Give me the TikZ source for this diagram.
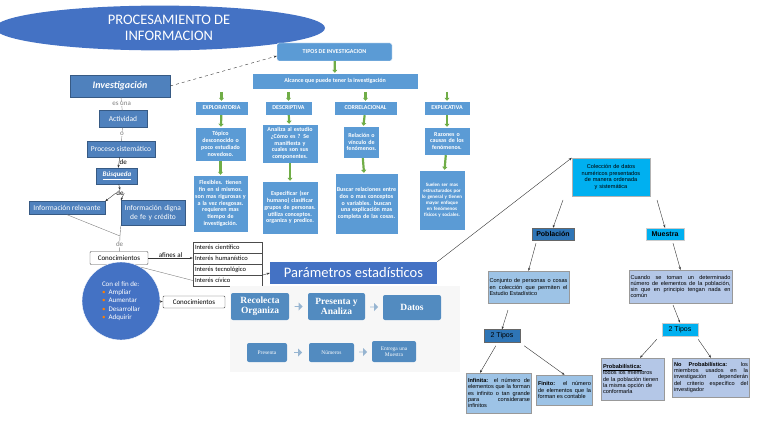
\documentclass[tikz,border=0pt]{standalone}
\usepackage{fontspec}
\setmainfont{Carlito}
\newfontfamily\arialf{Liberation Sans}
\newfontfamily\timesf{Liberation Serif}
\usepackage{tikz}
\usetikzlibrary{arrows.meta,shapes.arrows,shapes.geometric}

\definecolor{ppblue}{HTML}{4F81BD}
\definecolor{ttblue}{HTML}{5B9BD5}
\definecolor{pmblue}{HTML}{4472C4}
\definecolor{cyanb}{HTML}{00B0F0}
\definecolor{darkb}{HTML}{2E75B6}
\definecolor{lightb}{HTML}{9DC3E6}
\definecolor{paleb}{HTML}{B4C7E7}
\definecolor{greenar}{HTML}{70AD47}

\tikzset{
  bbox/.style={fill=ppblue, draw=ppblue!70!black, text=white, inner sep=1pt, align=center, font=\fontsize{7.5}{8.5}\selectfont},
  tbox/.style={fill=ttblue, draw=white, text=white, inner sep=1pt, align=center, font=\bfseries\fontsize{6}{6.8}\selectfont},
  wbox/.style={draw=black!70, rounded corners=1pt, fill=white, inner sep=1pt, font=\fontsize{7}{8}\selectfont},
  fbox/.style={fill=ttblue!90!black, rounded corners=2pt, text=white, align=center, inner sep=1pt},
  rbox/.style={draw=black!40, inner sep=1.5pt, text width=#1, font=\arialf\fontsize{5.6}{6.3}\selectfont},
  lab/.style={font=\fontsize{7}{8}\selectfont, inner sep=0.5pt},
  garrow/.style={draw=greenar, line width=2.2pt, -{Triangle[width=5pt,length=3pt]}},
  sarrow/.style={draw=black!80, -{Stealth[length=3pt]}},
  barrow/.style={single arrow, fill=lightb!80!gray, minimum height=8pt, minimum width=8pt, single arrow head extend=2pt, inner sep=0pt}
}

\begin{document}
\hyphenpenalty=10000 \exhyphenpenalty=10000
\begin{tikzpicture}[x=1pt,y=-1pt]

\useasboundingbox (0,0) rectangle (768,433);

% titulo
\node[ellipse, fill=pmblue, minimum width=330, minimum height=40, text=white, align=center, font=\fontsize{14.5}{15.5}\selectfont] (title) at (160,28) {\hspace*{18pt}PROCESAMIENTO DE\\\hspace*{18pt}INFORMACION};

% columna izquierda
\node[bbox, minimum width=100, minimum height=22, font=\bfseries\itshape\fontsize{10}{11}\selectfont] (inv) at (120,86) {Investigación};
\node[bbox, minimum width=48, minimum height=17] (act) at (123,119) {Actividad};
\node[bbox, minimum width=68, minimum height=16] (proc) at (121,149) {Proceso sistemático};
\node[bbox, minimum width=41, minimum height=16, font=\bfseries\itshape\fontsize{7}{8}\selectfont] (busq) at (117,176) {\underline{Búsqueda}};
\node[bbox, minimum width=76, minimum height=13] (irel) at (67,208) {Información relevante};
\node[bbox, minimum width=63, minimum height=25, text width=62] (idig) at (153,213) {Información digna de fe y crédito};
\coordinate (join) at (120,236);
\node[wbox, minimum width=58, minimum height=13] (con1) at (119,258) {Conocimientos};

\draw[gray] (inv) -- (act) node[midway, lab, fill=white] {es una};
\draw[gray] (act) -- (proc) node[midway, lab, fill=white] {o};
\draw[sarrow] (proc) -- (busq) node[midway, right, lab] {de};
\draw[sarrow] (busq) -- (120,190) node[below, lab] (de2) {de};
\draw[sarrow] (de2.west) -- (irel.north east);
\draw[sarrow] (de2.east) -- (idig.north west);
\draw[gray] (irel.south) -- (join) -- (idig.south west);
\draw[gray] (join) -- (con1) node[midway, lab, fill=white] {de};

% intereses
\foreach \t [count=\k] in {Interés científico, Interés humanístico, Interés tecnológico, Interés cívico}
  \node[draw=black!70, fill=white, minimum width=69, minimum height=11, inner sep=1pt, text width=65, font=\fontsize{6.5}{7}\selectfont] (int\k) at (227.5,236.5+11*\k) {\t};
\draw[sarrow] (con1) -- (int2.west |- con1) node[midway, above, lab] {afines al};

\node[circle, fill=pmblue, draw=white, minimum size=78, inner sep=0pt, text=white, align=left, font=\fontsize{7}{8.3}\selectfont] (fin) at (121,301) {Con el fin de:\\
{\color{orange}\textbullet}\ \ Ampliar\\{\color{orange}\textbullet}\ \ Aumentar\\{\color{orange}\textbullet}\ \ Desarrollar\\{\color{orange}\textbullet}\ \ Adquirir};
\draw[gray] (fin.60) -- (int4.west);
\node[wbox, minimum width=62, minimum height=12] (con2) at (194,302) {Conocimientos};
\draw[sarrow] (fin) -- (con2);

% tipos de investigacion
\node[tbox, minimum width=115, minimum height=18, rounded corners=2pt] (tipos) at (334.5,52) {TIPOS DE INVESTIGACION};
\node[tbox, minimum width=166, minimum height=16] (alc) at (335,81) {Alcance que puede tener la investigación};
\draw[garrow] (tipos) -- (alc);
\draw[sarrow, dashed] (inv.east) -- (tipos.west |- 0,56);

\foreach \n/\x/\w/\t in {exp/221.5/53/EXPLORATORIA, des/288.5/47/DESCRIPTIVA, cor/365.5/63/CORRELACIONAL, xpl/447/46/EXPLICATIVA}
{
  \node[tbox, minimum width=\w, minimum height=14] (h\n) at (\x,108) {\t};
  \draw[garrow] (\x,92) -- (h\n.north);
}
\node[tbox, text width=49, minimum height=34] (s1) at (220.5,144) {Tópico desconocido o poco estudiado novedoso.};
\node[tbox, text width=54, minimum height=39] (s2) at (290,143.5) {Analiza al estudio ¿Cómo es ? Se manifiesta y cuales son sus componentes.};
\node[tbox, text width=34, minimum height=32] (s3) at (361.5,142) {Relación o vínculo de fenómenos.};
\node[tbox, text width=44, minimum height=28] (s4) at (447,141) {Razones o causas de los fenómenos.};
\node[tbox, text width=53, minimum height=57] (t1) at (220.5,203.5) {Flexibles. tienen fin en si mismos. son mas rigurosas y a la vez riesgosas. requieren mas tiempo de investigación.};
\node[tbox, text width=54, minimum height=53] (t2) at (290,207.5) {Especificar (ser humano) clasificar grupos de personas. utiliza conceptos. organiza y predice.};
\node[tbox, text width=61, minimum height=61] (t3) at (366.5,203.5) {Buscar relaciones entre dos o mas conceptos o variables. buscan una explicación mas completa de las cosas.};
\node[tbox, text width=44, minimum height=60, font=\bfseries\fontsize{5}{6}\selectfont] (t4) at (442,200) {Suelen ser mas estructurados por lo general y tienen mayor enfoque en fenómenos físicos y sociales.};
\draw[garrow] (hexp) -- (s1); \draw[garrow] (hdes) -- (s2);
\draw[garrow] (hcor) -- (s3); \draw[garrow] (hxpl) -- (s4);
\draw[garrow] (s1) -- (t1); \draw[garrow] (s2) -- (t2);
\draw[garrow] (s3) -- (t3); \draw[garrow] (s4) -- (t4);

% parametros
\node[fill=pmblue, minimum width=167, minimum height=22, text=white, font=\fontsize{14.5}{15}\selectfont] (param) at (353.5,273) {Parámetros estadísticos};
\draw[sarrow] (int3.south east) -- (param.west);
\fill[black!3] (230,286) rectangle (460,372);
\node[fbox, minimum width=58, minimum height=27, font=\timesf\bfseries\fontsize{9.5}{10}\selectfont] (rec) at (260,306.5) {Recolecta\\Organiza};
\node[fbox, minimum width=57, minimum height=27, font=\timesf\bfseries\fontsize{9.5}{10}\selectfont] (pre) at (336.5,306.5) {Presenta y\\Analiza};
\node[fbox, minimum width=58, minimum height=25, font=\timesf\bfseries\fontsize{9.5}{10}\selectfont] (dat) at (412,307.5) {Datos};
\node[fbox, minimum width=40, minimum height=19, font=\timesf\fontsize{5.5}{6}\selectfont] (pre2) at (267,352.5) {Presenta};
\node[fbox, minimum width=45, minimum height=19, font=\timesf\fontsize{5.5}{6}\selectfont] (num) at (331.5,352.5) {Números};
\node[fbox, minimum width=44, minimum height=21, font=\timesf\fontsize{5.5}{6}\selectfont] (ent) at (394,351.5) {Entrega una\\Muestra};
\node[barrow] at (298.5,306.5) {}; \node[barrow] at (374,307) {};
\node[barrow] at (298,352.5) {}; \node[barrow] at (363,352) {};

% estadistica
\node[fill=cyanb, draw=black!30, minimum width=78, minimum height=38, text width=70, align=center, font=\arialf\fontsize{5.6}{6.4}\selectfont] (col) at (611,177) {Colección de datos numéricos presentados de manera ordenada y sistemática};
\draw[sarrow] (param.north east) -- (col.north west);
\node[fill=darkb, draw=black!60, minimum width=42, minimum height=12, font=\arialf\bfseries\fontsize{7}{8}\selectfont] (pob) at (553,234) {Población};
\node[fill=cyanb, draw=black!20, minimum width=38, minimum height=12, font=\arialf\bfseries\fontsize{7}{8}\selectfont] (mue) at (665,234) {Muestra};
\draw[sarrow] (563,200) -- (pob.north);
\draw[sarrow] (657,200) -- (mue.north);
\node[rbox=78, fill=lightb, minimum height=32, align=justify] (conj) at (528.5,287) {Conjunto de personas o cosas en colección que permiten el Estudio Estadístico};
\node[rbox=100, fill=paleb, minimum height=33, align=justify] (cuan) at (680.5,286.5) {Cuando se toman un determinado número de elementos de la población, sin que en principio tengan nada en común};
\draw[sarrow] (pob.south) ++(-17,3) -- (conj.north);
\draw[sarrow] (mue.south) ++(8,3) -- (cuan.north);
\node[fill=darkb, draw=black!60, minimum width=36, minimum height=12, font=\arialf\fontsize{7}{8}\selectfont] (tip1) at (502,336) {2 Tipos};
\node[fill=cyanb, draw=black!20, minimum width=36, minimum height=13, font=\arialf\fontsize{7}{8}\selectfont] (tip2) at (680,329.5) {2 Tipos};
\draw[sarrow] (508,310) -- (tip1.north);
\draw[sarrow] (673,305) -- (tip2.north);
\node[rbox=62, fill=lightb, minimum height=40, align=justify] (inf) at (499,393) {\textbf{Infinita:} el número de elementos que la forman es infinito o tan grande para considerarse infinitos};
\node[rbox=53, fill=lightb, minimum height=30, align=justify] (fin2) at (564.5,390) {\textbf{Finito:} el número de elementos que la forman es contable};
\node[rbox=60, fill=paleb, minimum height=42, align=left] (prob) at (633,379) {\textbf{\underline{Probabilística:}}\\todos los miembros de la población tienen la misma opción de conformarla};
\node[rbox=74, fill=paleb, minimum height=39, align=justify] (nprob) at (711,377.5) {\textbf{No Probabilística:} los miembros usados en la investigación dependerán del criterio específico del investigador};
\draw[sarrow] (tip1.south west) ++(12,3) -- (inf.north -| 480,0);
\draw[sarrow] (tip1.south east) ++(4,3) -- (fin2.north);
\draw[sarrow] (tip2.south west) ++(-5,3) -- (prob.north -| 640,0);
\draw[sarrow] (tip2.south east) ++(0,3) -- (nprob.north);

\end{tikzpicture}
\end{document}
